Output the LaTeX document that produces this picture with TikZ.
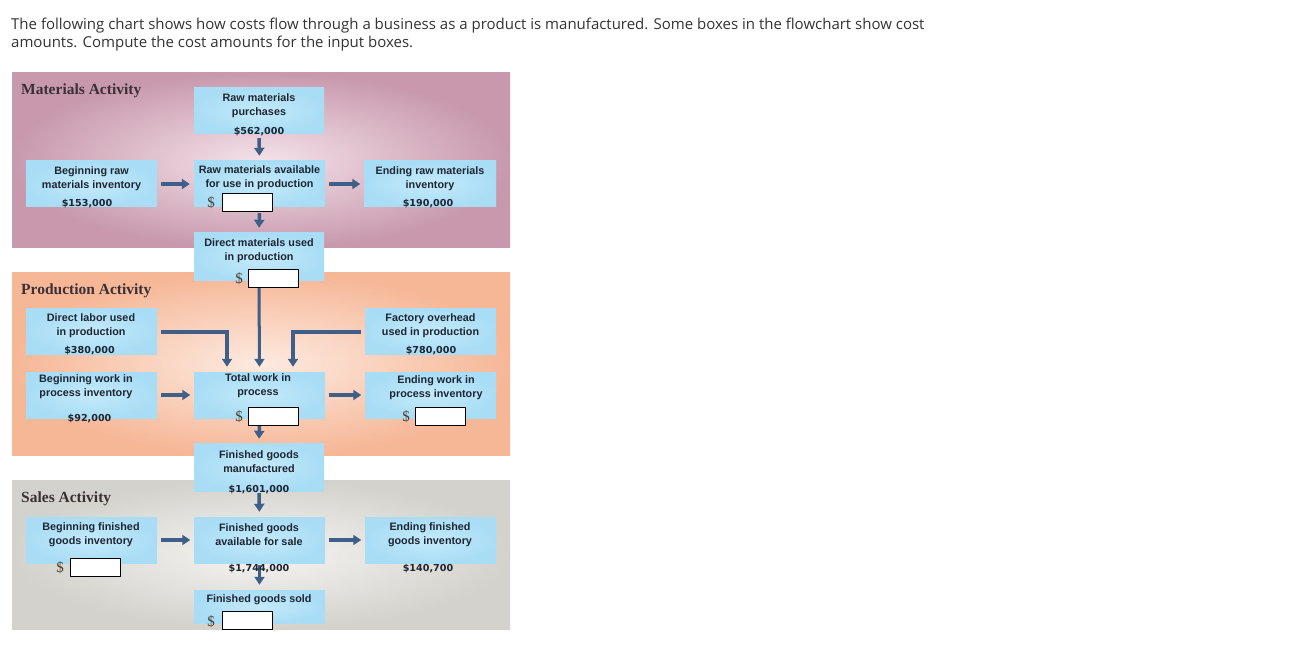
\documentclass[tikz,border=0pt]{standalone}
\usepackage{fontspec}
\usetikzlibrary{arrows.meta,calc}
\newfontfamily\hdrfont{Open Sans}
\newfontfamily\boxfont{Liberation Sans}
\newfontfamily\amtfont{DejaVu Sans}
\newfontfamily\ttlfont{Liberation Serif}
\definecolor{boxblue}{HTML}{A9DDF5}
\definecolor{boxin}{HTML}{C4EAFB}
\definecolor{arrowc}{HTML}{3F5E88}
\definecolor{txt}{HTML}{1E2533}
\definecolor{hdrc}{HTML}{333333}
\definecolor{ttlc}{HTML}{3A3035}
\definecolor{dollc}{HTML}{4A4030}
\definecolor{pinkout}{HTML}{C899AD}
\definecolor{pinkin}{HTML}{F4E2E9}
\definecolor{peachout}{HTML}{F6B797}
\definecolor{peachin}{HTML}{FDEAE0}
\definecolor{greyout}{HTML}{D4D2CC}
\definecolor{greyin}{HTML}{F5F4F2}
\tikzset{
  cbox/.style={rectangle, inner sep=0pt, minimum width=131pt, minimum height=46pt, inner color=boxin, outer color=boxblue},
  lbl/.style={inner sep=0pt, yshift=-1.5pt, align=center, text=txt, font=\boxfont\bfseries\fontsize{10.8}{14}\selectfont},
  amt/.style={inner sep=0pt, yshift=-1.5pt, text=txt, font=\amtfont\bfseries\fontsize{9.6}{12}\selectfont},
  ttl/.style={inner sep=0pt, yshift=-1.5pt, anchor=west, text=ttlc, font=\ttlfont\bfseries\fontsize{15.5}{18}\selectfont},
  doll/.style={inner sep=0pt, yshift=-1.5pt, text=dollc, font=\ttlfont\fontsize{15}{18}\selectfont},
  inbox/.style={rectangle, draw=black, line width=0.9pt, fill=white, inner sep=0pt, minimum width=50pt, minimum height=18pt},
  flow/.style={draw=arrowc, line width=3.5pt, -{Triangle[width=10pt,length=8pt]}},
  hdr/.style={inner sep=0pt, anchor=base west, text=hdrc, font=\hdrfont\fontsize{15}{18}\selectfont}
}
\begin{document}
\begin{tikzpicture}[x=1pt,y=-1pt]
\useasboundingbox (0,0) rectangle (1291,655);
\fill[white] (0,0) rectangle (1291,655);
% header
\node[hdr] (h1) at (11,30) {The following chart shows how costs flow through a business as a product is manufactured. Some boxes in the flowchart show cost};
\node[hdr] (h2) at (11,48) {amounts. Compute the cost amounts for the input boxes.};
% panels
\shade[inner color=pinkin, outer color=pinkout] (12,73) rectangle (510,248);
\shade[inner color=peachin, outer color=peachout] (12,273) rectangle (510,455);
\shade[inner color=greyin, outer color=greyout] (12,480) rectangle (510,629);
\node[ttl] (t1) at (21,89) {Materials Activity};
\node[ttl] (t2) at (21,289) {Production Activity};
\node[ttl] (t3) at (21,497) {Sales Activity};
% boxes
\node[cbox, minimum width=130pt] (purch) at (259,111) {};
\node[cbox] (begRM) at (91.5,184) {};
\node[cbox] (avail) at (259.5,184) {};
\node[cbox, minimum width=132pt] (endRM) at (430,184) {};
\node[cbox, minimum width=130pt, minimum height=48pt] (dmused) at (259,257) {};
\node[cbox] (labor) at (91.5,331) {};
\node[cbox] (ovh) at (430.5,331) {};
\node[cbox] (begWIP) at (91.5,395) {};
\node[cbox] (wip) at (259.5,395) {};
\node[cbox] (endWIP) at (430.5,395) {};
\node[cbox, minimum width=130pt, minimum height=48pt] (fgm) at (259,467) {};
\node[cbox] (begFG) at (91.5,540) {};
\node[cbox] (fga) at (259.5,540) {};
\node[cbox] (endFG) at (430.5,540) {};
\node[cbox, minimum height=33pt] (fgs) at (259.5,606.5) {};
% arrows
\draw[flow, shorten <=4pt, shorten >=4pt] (begRM.east) -- (avail.west);
\draw[flow, shorten <=4pt, shorten >=3.5pt] (avail.east) -- (endRM.west);
\draw[flow, shorten <=4pt, shorten >=5pt] (purch.south) -- (avail.north);
\draw[flow, shorten <=6pt, shorten >=5pt] (avail.south) -- (dmused.north);
\draw[flow, line width=3pt, shorten <=6pt, shorten >=5pt] (dmused.south) -- (wip.north);
\draw[flow, line width=4pt, shorten <=4pt] ([yshift=-1pt]labor.east) -| ([xshift=-32.5pt,yshift=5pt]wip.north);
\draw[flow, line width=4pt, shorten <=3.5pt] ([yshift=-1pt]ovh.west) -| ([xshift=33.5pt,yshift=5pt]wip.north);
\draw[flow, shorten <=4pt, shorten >=3.5pt] (begWIP.east) -- (wip.west);
\draw[flow, shorten <=4pt, shorten >=3.5pt] (wip.east) -- (endWIP.west);
\draw[flow, shorten <=8pt, shorten >=4pt] (wip.south) -- (fgm.north);
\draw[flow, shorten <=2pt, shorten >=5pt] (fgm.south) -- (fga.north);
\draw[flow, shorten <=4pt, shorten >=3.5pt] (begFG.east) -- (fga.west);
\draw[flow, shorten <=4pt, shorten >=3.5pt] (fga.east) -- (endFG.west);
\draw[flow, shorten <=2pt, shorten >=5pt] (fga.south) -- (fgs.north);
% Materials texts
\node[lbl] (purch-t) at (259,104) {Raw materials\\purchases};
\node[amt] (purch-a) at (259,130) {\$562,000};
\node[lbl] (begRM-t) at (91.5,177) {Beginning raw\\materials inventory};
\node[amt] (begRM-a) at (87,202) {\$153,000};
\node[lbl] (avail-t) at (259.5,176) {Raw materials available\\for use in production};
\node[doll] (avail-d) at (211,201) {\$};
\node[inbox] (avail-i) at (247,202) {};
\node[lbl] (endRM-t) at (430,177) {Ending raw materials\\inventory};
\node[amt] (endRM-a) at (428,202) {\$190,000};
\node[lbl] (dmused-t) at (259,249.5) {Direct materials used\\in production};
\node[doll] (dmused-d) at (239,277) {\$};
\node[inbox] (dmused-i) at (273,278) {};
% Production texts
\node[lbl] (labor-t) at (91,324) {Direct labor used\\in production};
\node[amt] (labor-a) at (89.5,349) {\$380,000};
\node[lbl] (ovh-t) at (430.5,324) {Factory overhead\\used in production};
\node[amt] (ovh-a) at (431,349) {\$780,000};
\node[lbl] (begWIP-t) at (86,385.5) {Beginning work in\\process inventory};
\node[amt] (begWIP-a) at (89.5,417) {\$92,000};
\node[lbl] (wip-t) at (258,384.5) {Total work in\\process};
\node[doll] (wip-d) at (239,415) {\$};
\node[inbox] (wip-i) at (273,416) {};
\node[lbl] (endWIP-t) at (436,386.5) {Ending work in\\process inventory};
\node[doll] (endWIP-d) at (406,415) {\$};
\node[inbox] (endWIP-i) at (440,416) {};
\node[lbl] (fgm-t) at (259,460) {Finished goods\\manufactured};
\node[amt] (fgm-a) at (259,488) {\$1,601,000};
% Sales texts
\node[lbl] (begFG-t) at (91,533) {Beginning finished\\goods inventory};
\node[doll] (begFG-d) at (60,566) {\$};
\node[inbox] (begFG-i) at (95,567) {};
\node[lbl] (fga-t) at (259,533.5) {Finished goods\\available for sale};
\node[amt] (fga-a) at (259,567) {\$1,744,000};
\node[lbl] (endFG-t) at (430,533.5) {Ending finished\\goods inventory};
\node[amt] (endFG-a) at (428,567) {\$140,700};
\node[lbl] (fgs-t) at (259,598) {Finished goods sold};
\node[doll] (fgs-d) at (211,620) {\$};
\node[inbox] (fgs-i) at (247,620.5) {};
\end{tikzpicture}
\end{document}
